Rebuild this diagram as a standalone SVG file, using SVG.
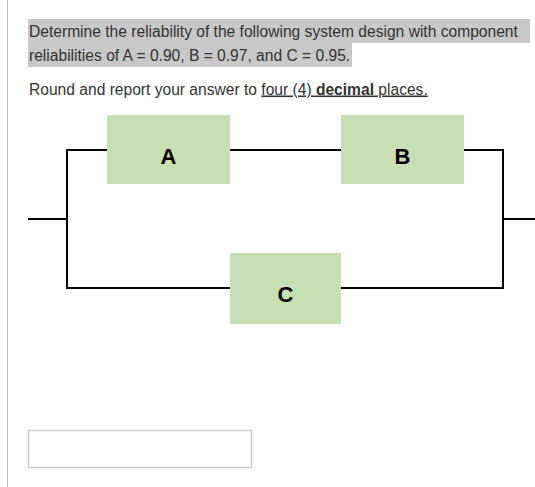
<svg xmlns="http://www.w3.org/2000/svg" width="535" height="487" viewBox="0 0 535 487">
<style>
.t{font-family:"Liberation Sans",Arial,sans-serif;font-size:15.6px;fill:#333}
.box{fill:#c6e0b4}
.lbl{font-family:"Liberation Sans",Arial,sans-serif;font-size:22px;font-weight:bold;fill:#000;text-anchor:middle}
.w{fill:none;stroke:#000;stroke-width:2}
</style>
<rect x="0" y="0" width="535" height="487" fill="#fff"/>
<line x1="7.5" y1="0" x2="7.5" y2="487" stroke="#bbb" stroke-width="1"/>
<rect x="28" y="19" width="502" height="24" fill="#c8c8c8"/>
<rect x="28" y="43" width="324" height="24" fill="#c8c8c8"/>
<text class="t" x="29" y="36.5">Determine the reliability of the following system design with component</text>
<text class="t" x="29" y="60.5">reliabilities of A = 0.90, B = 0.97, and C = 0.95.</text>
<text class="t" x="29" y="94.5">Round and report your answer to <tspan text-decoration="underline">four (4) <tspan font-weight="bold">decimal</tspan> places.</tspan></text>
<g id="connectors">
<polyline class="w" points="28,219 67,219"/>
<polyline class="w" points="107,150 67,150 67,288 230,288"/>
<polyline class="w" points="230,150 341,150"/>
<polyline class="w" points="464,150 503,150 503,288 341,288"/>
<polyline class="w" points="503,219 535,219"/>
</g>
<g id="A"><rect class="box" x="107" y="115" width="123" height="69"/><text class="lbl" x="168.5" y="164">A</text></g>
<g id="B"><rect class="box" x="341" y="115" width="123" height="69"/><text class="lbl" x="402.5" y="164">B</text></g>
<g id="C"><rect class="box" x="230" y="253" width="111" height="71"/><text class="lbl" x="285.5" y="302">C</text></g>
<rect x="28.5" y="430.5" width="223" height="37" fill="#fff" stroke="#ccc" stroke-width="1.5"/>
</svg>
